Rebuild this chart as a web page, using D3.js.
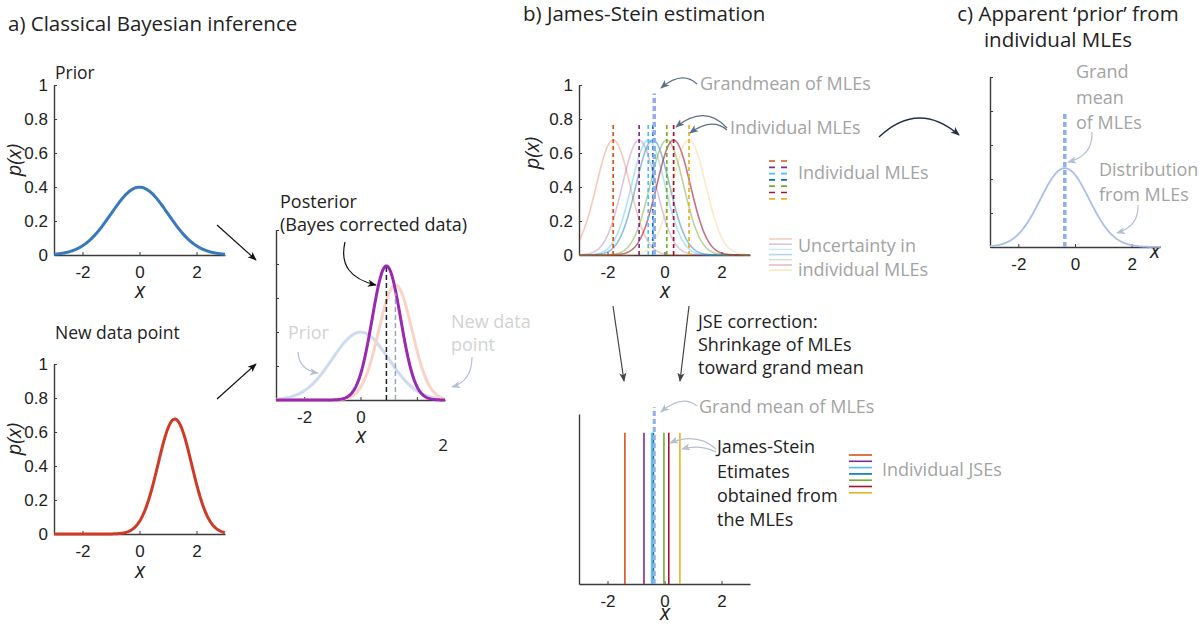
<!DOCTYPE html>
<html>
<head>
<meta charset="utf-8">
<script src="https://cdn.jsdelivr.net/npm/d3@7"></script>
<style>
  body { margin: 0; background: #fff; }
  svg { font-family: "Open Sans", sans-serif; }
</style>
</head>
<body>
<svg id="fig" width="1200" height="626"></svg>
<script>
// ---- data ----
var xTicks = [-2, 0, 2];
var yTicks = [0, 0.2, 0.4, 0.6, 0.8, 1];
var yTickLabels = ["0", "0.2", "0.4", "0.6", "0.8", "1"];

// panel a (normal curves: mean, sd)
var priorParams = [0, 1];
var newDataParams = [1.24, 0.59];
var posteriorParams = [0.92, 0.506];

// panel b
var seriesColors = ["#D95319", "#7E2F8E", "#4DBEEE", "#0072BD", "#77AC30", "#A2142F", "#EDB120"];
var curveOpacity = [0.3, 0.28, 0.45, 0.45, 0.5, 0.6, 0.25];
var mleValues = [-1.80, -0.89, -0.57, -0.41, 0.08, 0.32, 0.86];
var mleSd = 0.59;
var mleLineTop = 0.78;
var jseValues = [-1.39, -0.72, -0.45, -0.39, -0.02, 0.15, 0.54];
var jseLineTop = 0.89;
var grandMean = -0.36;

// panel c
var spreadSd = 0.86;

var svg = d3.select("#fig");
var defs = svg.append("defs");

function pdf(x, m, s) {
  return Math.exp(-0.5 * Math.pow((x - m) / s, 2)) / (s * Math.sqrt(2 * Math.PI));
}
var xs = d3.range(-3, 3.0001, 0.025);

// arrow heads
var markerColors = {blk: "#111", dk: "#444", slate: "#5b6f8a", navy: "#1f3048", lite: "#b4bfd4"};
Object.keys(markerColors).forEach(function(k) {
  defs.append("marker")
    .attr("id", "ah-" + k)
    .attr("viewBox", "0 0 10 10")
    .attr("refX", 9).attr("refY", 5)
    .attr("markerWidth", 9).attr("markerHeight", 9)
    .attr("markerUnits", "userSpaceOnUse")
    .attr("orient", "auto")
    .append("path")
    .attr("d", "M0,1 L10,5 L0,9 L2.5,5 Z")
    .attr("fill", markerColors[k]);
});

// build one axes box, MATLAB style (ticks inward)
function panel(o) {
  var g = svg.append("g").attr("transform", "translate(" + o.left + "," + o.top + ")");
  var x = d3.scaleLinear().domain([-3, 3]).range([0, o.w]);
  var y = d3.scaleLinear().domain([0, 1]).range([o.h, 0]);

  var ax = g.append("g")
    .attr("transform", "translate(0," + o.h + ")")
    .call(d3.axisBottom(x).tickValues(xTicks).tickSize(-3).tickSizeOuter(0).tickPadding(11)
      .tickFormat(function(d) { return o.xFmt ? o.xFmt(d) : d; }));
  var ay = g.append("g")
    .call(d3.axisLeft(y).tickValues(o.yTicks === false ? [] : yTicks).tickSize(-3).tickSizeOuter(0).tickPadding(6)
      .tickFormat(function(d, i) { return o.yLabels ? yTickLabels[i] : ""; }));
  [ax, ay].forEach(function(a) {
    a.select(".domain").attr("stroke", "#3a3a3a").attr("stroke-width", 1.4);
    a.selectAll(".tick line").attr("stroke", "#3a3a3a").attr("stroke-width", 1);
    a.selectAll(".tick text").attr("fill", "#222").style("font-size", "17px");
  });

  if (o.xlab) {
    g.append("text").attr("x", o.xlab[0]).attr("y", o.xlab[1])
      .attr("text-anchor", "middle").attr("dy", "0.3em")
      .style("font-size", "21px").style("font-style", "italic").attr("fill", "#222").text("x");
  }
  if (o.ylab) {
    g.append("text").attr("transform", "translate(" + o.ylab[0] + "," + o.ylab[1] + ") rotate(-90)")
      .attr("text-anchor", "middle").attr("dy", "0.35em")
      .style("font-size", "20px").style("font-style", "italic").attr("fill", "#222").text("p(x)");
  }
  g.x = x; g.y = y;
  return g;
}

function curve(g, params, color, width, opacity) {
  var line = d3.line().x(function(d) { return g.x(d); }).y(function(d) { return g.y(pdf(d, params[0], params[1])); });
  g.append("path").datum(xs).attr("d", line).attr("fill", "none")
    .attr("stroke", color).attr("stroke-width", width).attr("stroke-opacity", opacity == null ? 1 : opacity)
    .attr("stroke-linejoin", "round");
}

function vline(g, xv, top, color, width, dash) {
  g.append("line").attr("x1", g.x(xv)).attr("x2", g.x(xv)).attr("y1", g.y(0)).attr("y2", g.y(top))
    .attr("stroke", color).attr("stroke-width", width).attr("stroke-dasharray", dash || null);
}

function label(x, y, txt, color, size, anchor) {
  svg.append("text").attr("x", x).attr("y", y).attr("dy", "0.35em")
    .attr("text-anchor", anchor || "start").attr("fill", color).style("font-size", (size || 18) + "px").text(txt);
}

function arrow(d, key, w) {
  svg.append("path").attr("d", d).attr("fill", "none").attr("stroke", markerColors[key])
    .attr("stroke-width", w || 1.2).attr("marker-end", "url(#ah-" + key + ")");
}

// ---------- a) Classical Bayesian inference ----------
label(8, 24, "a) Classical Bayesian inference", "#222", 20.5);

var pa1 = panel({left: 54, top: 85, w: 171, h: 170, yLabels: true, xlab: [86, 207], ylab: [-40, 75]});
curve(pa1, priorParams, "#3778bf", 3);
label(55, 73, "Prior", "#222", 17.5);

var pa2 = panel({left: 54, top: 364, w: 171, h: 170, yLabels: true, xlab: [86, 208], ylab: [-40, 75]});
curve(pa2, newDataParams, "#cf3a26", 3);
label(55, 333, "New data point", "#222", 17.5);

arrow("M217,225 L256,260", "blk");
arrow("M217,399 L256,364", "blk");

// posterior panel
var pp = panel({left: 276, top: 230, w: 169, h: 170, yLabels: false, xlab: [85, 207],
  xFmt: function(d) { return d === 2 ? "" : d; }});
curve(pp, priorParams, "#cddaf4", 3);
curve(pp, newDataParams, "#f9d3c6", 3);
curve(pp, posteriorParams, "#9a28b0", 3);
vline(pp, newDataParams[0], 0.63, "#9aa6c0", 1.5, "5,3");
vline(pp, posteriorParams[0], 0.78, "#222", 1.5, "5,3");
label(443, 445, "2", "#222", 17, "middle");
label(280, 202, "Posterior", "#222", 18);
label(280, 225, "(Bayes corrected data)", "#222", 18);
arrow("M345,242 Q337,276 376,285", "blk");
label(288, 333, "Prior", "#d2d2d2", 18);
arrow("M298,352 Q299,370 318,373", "lite");
label(451, 322, "New data", "#d2d2d2", 18);
label(451, 345, "point", "#d2d2d2", 18);
arrow("M472,357 Q472,381 452,387", "lite");

// ---------- b) James-Stein estimation ----------
label(523, 14, "b) James-Stein estimation", "#222", 20.5);

var pb1 = panel({left: 579, top: 85, w: 171, h: 170, yLabels: true, xlab: [86, 207], ylab: [-47, 68]});
mleValues.forEach(function(m, i) { curve(pb1, [m, mleSd], seriesColors[i], 1.6, curveOpacity[i]); });
mleValues.forEach(function(m, i) { vline(pb1, m, mleLineTop, seriesColors[i], 1.7, "4,3"); });
vline(pb1, grandMean, 0.95, "#8fb0e6", 3.5, "5,3");

label(700, 84, "Grandmean of MLEs", "#a3a3a3", 18);
arrow("M697,84 Q682,70 661,88", "slate");
label(730, 128, "Individual MLEs", "#a3a3a3", 18);
arrow("M727,128 Q705,104 676,127", "slate");
arrow("M727,130 Q712,117 690,133", "slate");

// legend: dashed MLE markers
seriesColors.forEach(function(c, i) {
  var yy = 161 + i * 6.3;
  svg.append("line").attr("x1", 769).attr("x2", 787).attr("y1", yy).attr("y2", yy)
    .attr("stroke", c).attr("stroke-width", 1.7).attr("stroke-dasharray", "6,6");
});
label(798, 173, "Individual MLEs", "#a3a3a3", 18);

// legend: uncertainty curves
seriesColors.forEach(function(c, i) {
  var yy = 239 + i * 5.2;
  svg.append("line").attr("x1", 769).attr("x2", 792).attr("y1", yy).attr("y2", yy)
    .attr("stroke", c).attr("stroke-width", 1.5).attr("stroke-opacity", 0.3);
});
label(798, 246, "Uncertainty in", "#a3a3a3", 18);
label(798, 270, "individual MLEs", "#a3a3a3", 18);

// shrinkage step
arrow("M613,306 L624,381", "dk");
arrow("M689,306 L680,381", "dk");
label(698, 322, "JSE correction:", "#222", 18);
label(698, 345, "Shrinkage of MLEs", "#222", 18);
label(698, 368, "toward grand mean", "#222", 18);

var pb2 = panel({left: 579, top: 414, w: 171, h: 170, yLabels: false, yTicks: false, xlab: [86, 200]});
jseValues.forEach(function(m, i) { vline(pb2, m, jseLineTop, seriesColors[i], 1.6); });
vline(pb2, grandMean, 1.04, "#8fb0e6", 3, "5,3");

label(699, 407, "Grand mean of MLEs", "#a3a3a3", 18);
arrow("M697,406 Q682,394 661,412", "lite");
label(717, 447, "James-Stein", "#222", 18);
label(717, 472, "Etimates", "#222", 18);
label(717, 496, "obtained from", "#222", 18);
label(717, 520, "the MLEs", "#222", 18);
arrow("M716,449 Q697,432 670,443", "lite");
arrow("M716,452 Q700,444 682,449", "lite");

seriesColors.forEach(function(c, i) {
  var yy = 455 + i * 6.3;
  svg.append("line").attr("x1", 849).attr("x2", 872).attr("y1", yy).attr("y2", yy)
    .attr("stroke", c).attr("stroke-width", 1.6);
});
label(882, 470, "Individual JSEs", "#a3a3a3", 18);

// arc from b to c
arrow("M879,137 Q918,100 959,135", "navy", 1.5);

// ---------- c) Apparent 'prior' from individual MLEs ----------
label(1068, 14, "c) Apparent \u2018prior\u2019 from", "#222", 20.5, "middle");
label(1058, 40, "individual MLEs", "#222", 20.5, "middle");

var pc = panel({left: 990, top: 77, w: 170, h: 170, yLabels: false, xlab: [165, 175]});
curve(pc, [grandMean, spreadSd], "#a9bfe9", 1.8);
vline(pc, grandMean, 0.79, "#8fb0e6", 3.5, "5,3");

label(1076, 72, "Grand", "#a3a3a3", 18);
label(1076, 98, "mean", "#a3a3a3", 18);
label(1076, 123, "of MLEs", "#a3a3a3", 18);
arrow("M1092,132 Q1093,156 1068,162", "lite");
label(1099, 170, "Distribution", "#a3a3a3", 18);
label(1099, 195, "from MLEs", "#a3a3a3", 18);
arrow("M1138,205 Q1139,226 1117,233", "lite");
</script>
</body>
</html>
